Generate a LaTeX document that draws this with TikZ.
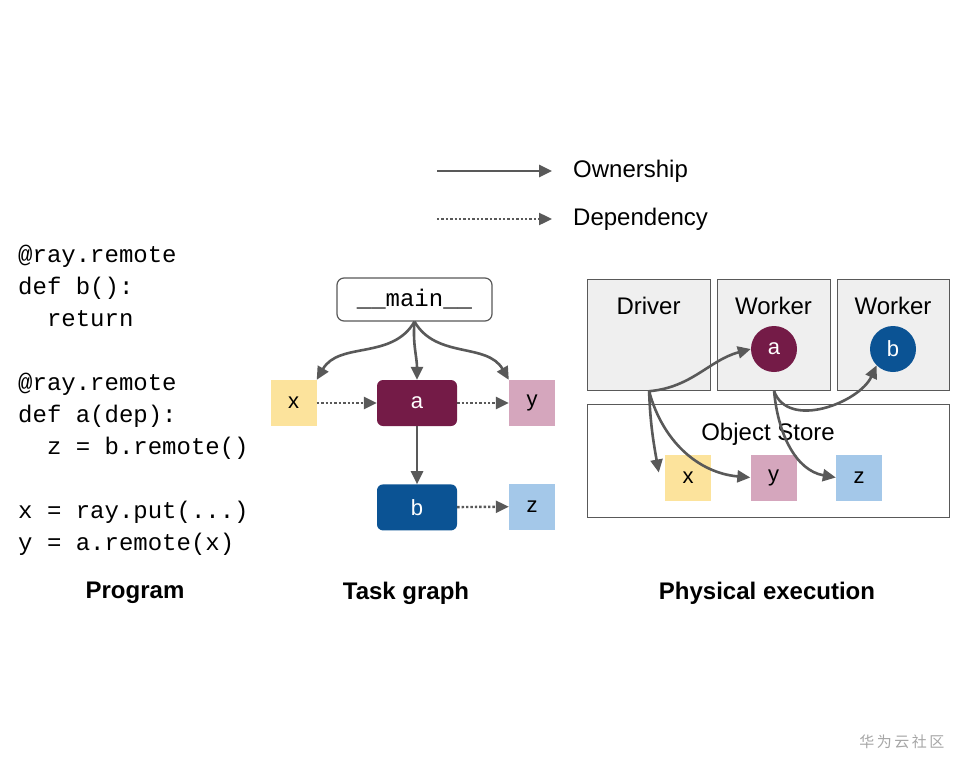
\documentclass[tikz,border=0pt]{standalone}
\usepackage{fontspec}
\setmainfont{Liberation Sans}
\setmonofont{Liberation Mono}
\newfontfamily\cjk{Noto Sans CJK SC}
\usetikzlibrary{arrows.meta, positioning}

\definecolor{arrowgray}{HTML}{595959}
\definecolor{boxgray}{HTML}{EFEFEF}
\definecolor{xcol}{HTML}{FCE39C}
\definecolor{ycol}{HTML}{D5A6BD}
\definecolor{zcol}{HTML}{A4C8E9}
\definecolor{acol}{HTML}{741B47}
\definecolor{bcol}{HTML}{0B5394}

\tikzset{
  own/.style={draw=arrowgray, line width=2.6pt, -{Triangle[length=13pt, width=12pt]}},
  dep/.style={draw=arrowgray, line width=2.4pt, dotted, -{Triangle[length=13pt, width=12pt]}},
  obj/.style={minimum width=46pt, minimum height=46pt, inner sep=0pt, font=\fontsize{22}{24}\selectfont},
  task/.style={rounded corners=6pt, minimum width=80pt, minimum height=46pt, inner sep=0pt,
    text=white, font=\fontsize{22}{24}\selectfont},
  proc/.style={draw=arrowgray, line width=1.2pt, fill=boxgray, anchor=north west, inner sep=0pt},
  caption/.style={font=\bfseries\fontsize{24}{26}\selectfont},
  codeline/.style={anchor=base west, inner sep=0pt, font=\ttfamily\fontsize{24}{26}\selectfont},
}

\begin{document}
\begin{tikzpicture}[x=1pt, y=1pt]
  \useasboundingbox[fill=white] (0,0) rectangle (960,-768);

  % legend
  \coordinate (own start) at (437,-171);
  \coordinate (own end) at (552,-171);
  \coordinate (dep start) at (437,-219);
  \coordinate (dep end) at (552,-219);
  \draw[own] (own start) -- (own end);
  \draw[dep] (dep start) -- (dep end);
  \node[anchor=west, inner sep=0pt, font=\fontsize{24}{26}\selectfont] (own text) at (573,-171) {Ownership};
  \node[anchor=west, inner sep=0pt, font=\fontsize{24}{26}\selectfont] (dep text) at (573,-219) {Dependency};

  % program
  \foreach \line/\y in {{@ray.remote}/262, {def b():}/294, {\ \ return}/326,
      {@ray.remote}/390, {def a(dep):}/422, {\ \ z = b.remote()}/454,
      {x = ray.put(...)}/518, {y = a.remote(x)}/550} {
    \node[codeline] at (18,-\y) {\line};
  }

  % task graph
  \node[draw=arrowgray, line width=1.2pt, rounded corners=7pt, minimum width=155pt, minimum height=43pt,
    inner sep=0pt, font=\ttfamily\fontsize{24}{26}\selectfont] (main) at (414.5,-299.5) {\_\_main\_\_};
  \node[task, fill=acol] (ta) at (417,-403) {a};
  \node[task, fill=bcol, below=58pt of ta] (tb) {b};
  \node[obj, fill=xcol] (tx) at (293.5,-403) {x};
  \node[obj, fill=ycol] (ty) at (532,-403) {y};
  \node[obj, fill=zcol] (tz) at (532,-506.5) {z};

  \draw[own] (main.south) to[out=-95, in=90] (ta.north);
  \draw[own] (main.south) to[out=-120, in=60] (tx.north east);
  \draw[own] (main.south) to[out=-60, in=120] (ty.north west);
  \draw[own] (ta) -- (tb);
  \draw[dep] (tx) -- (ta);
  \draw[dep] (ta) -- (ty);
  \draw[dep] (tb) -- (tz);

  % physical execution
  \node[proc, minimum width=123pt, minimum height=111pt] (driver) at (587,-279) {};
  \node[proc, minimum width=113pt, minimum height=111pt] (worker1) at (717,-279) {};
  \node[proc, minimum width=112pt, minimum height=111pt] (worker2) at (837,-279) {};
  \node[proc, fill=white, minimum width=362pt, minimum height=113pt] (store) at (587,-404) {};
  \node[font=\fontsize{24}{26}\selectfont, anchor=base] at (648.5,-314) {Driver};
  \node[font=\fontsize{24}{26}\selectfont, anchor=base] at (773.5,-314) {Worker};
  \node[font=\fontsize{24}{26}\selectfont, anchor=base] at (893,-314) {Worker};
  \node[font=\fontsize{24}{26}\selectfont, anchor=base] at (768,-440) {Object Store};

  \node[circle, fill=acol, minimum size=46pt, inner sep=0pt, text=white,
    font=\fontsize{22}{24}\selectfont] (pa) at (774,-349) {a};
  \node[circle, fill=bcol, minimum size=46pt, inner sep=0pt, text=white,
    font=\fontsize{22}{24}\selectfont] (pb) at (893,-349) {b};
  \node[obj, fill=xcol] (px) at (688,-477.5) {x};
  \node[obj, fill=ycol] (py) at (773.5,-477.5) {y};
  \node[obj, fill=zcol] (pz) at (859,-477.5) {z};

  \draw[own] (driver.south) to[out=5, in=195] (pa.west);
  \draw[own] (driver.south) to[out=-88, in=100] ([xshift=-6pt, yshift=5pt]px.west);
  \draw[own] (driver.south) to[out=-75, in=175] (py.west);
  \draw[own] (worker1.south) to[out=-70, in=245] (pb.south west);
  \draw[own] (worker1.south) to[out=-85, in=170] (pz.west);

  % captions
  \node[caption] at (135,-593) {Program};
  \node[caption] at (406,-593) {Task graph};
  \node[caption] at (767,-593) {Physical execution};

  \node[text=gray!70, font=\cjk\fontsize{15}{16}\selectfont, anchor=east] at (948,-742)
    {华\,为\,云\,社\,区};
\end{tikzpicture}
\end{document}
